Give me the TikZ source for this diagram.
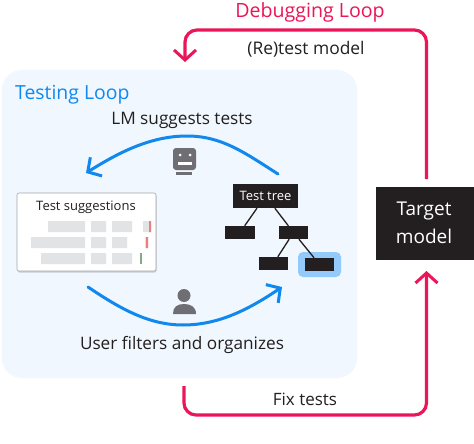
\documentclass[tikz,border=0pt]{standalone}
\usepackage{fontspec}
\setmainfont{Open Sans}
\usetikzlibrary{arrows.meta,shadows}
\definecolor{panelc}{HTML}{F0F7FE}
\definecolor{loopred}{HTML}{EB1559}
\definecolor{loopblue}{HTML}{1088EE}
\definecolor{hilite}{HTML}{93CAFA}
\definecolor{barc}{HTML}{E2E3E5}
\definecolor{icon}{HTML}{6E6E74}
\definecolor{ink}{HTML}{231F20}
\newcommand{\fs}[1]{\fontsize{#1}{#1}\selectfont}
\tikzset{
  x=1pt,y=-1pt,
  redline/.style={draw=loopred,line width=3.2pt,rounded corners=12pt},
  blueline/.style={draw=loopblue,line width=3pt,line cap=round},
  barb/.style={-{Straight Barb[length=10pt,width=22pt,line width=3pt]}},
  blk/.style={fill=ink,draw=none,inner sep=0pt,minimum width=29.5pt,minimum height=13pt},
  lbl/.style={text=ink,inner sep=0pt,align=center},
  treeedge/.style={draw=ink,line width=1.3pt},
  bar/.style={fill=barc,draw=none}
}
\begin{document}
\begin{tikzpicture}
\useasboundingbox (0,0) rectangle (474,444);
\fill[white] (0,0) rectangle (474,444);
% panel
\fill[panelc,rounded corners=20pt] (2,70) rectangle (357,378);
% target
\node[fill=ink,inner sep=0pt,minimum width=98pt,minimum height=73pt] (target) at (425,223.5) {};
\node[text=white,inner sep=0pt,font=\fs{19}] (tg1) at (424,211) {Target};
\node[text=white,inner sep=0pt,font=\fs{19}] (tg2) at (424,236) {model};
% red loop
\coordinate (t1) at (426.5,179);
\coordinate (t2) at (185,62);
\coordinate (b1) at (184,386);
\coordinate (b2) at (426.5,271);
\draw[redline,barb] (t1) -- (426.5,30) -- (185,30) -- (t2);
\draw[redline,barb] (b1) -- (184,415) -- (426.5,415) -- (b2);
% texts
\node[text=loopred,inner sep=0pt,font=\fs{19.6}] (dbg) at (310,12) {Debugging Loop};
\node[lbl,font=\fs{17.4}] (retest) at (306,49) {(Re)test model};
\node[lbl,font=\fs{17}] (fix) at (305,399) {Fix tests};
\node[text=loopblue,inner sep=0pt,anchor=west,font=\fs{19.4}] (tl) at (15,95) {Testing Loop};
\node[lbl,font=\fs{17.2}] (lm) at (182,120) {LM suggests tests};
\node[lbl,font=\fs{17.2}] (uf) at (182,345) {User filters and organizes};
% blue arrows
\coordinate (a1) at (278,174);
\coordinate (a2) at (86,173);
\coordinate (a3) at (88,287);
\coordinate (a4) at (282,287);
\draw[blueline,barb] (a1) .. controls (245,153) and (222,136) .. (187,136) .. controls (150,136) and (118,153) .. (a2);
\draw[blueline,barb] (a3) .. controls (122,310) and (150,325) .. (183,325) .. controls (218,325) and (248,310) .. (a4);
% suggestions card
\node[fill=white,draw=black!35,line width=.6pt,rounded corners=2pt,minimum width=139pt,minimum height=78pt,inner sep=0pt,drop shadow={shadow xshift=0.5pt,shadow yshift=-1.5pt,opacity=.35}] (card) at (86.5,232) {};
\node[lbl,font=\fs{13}] (cardt) at (86,207) {Test suggestions};
\fill[bar] (48,221) rectangle (85,232) (91,221) rectangle (106,232) (112,221) rectangle (132,232) (143,221) rectangle (151,232);
\fill[bar] (31,237) rectangle (85,248) (91,237) rectangle (106,248) (112,237) rectangle (127,248) (145,237) rectangle (148,248);
\fill[bar] (41,253) rectangle (85,264) (91,253) rectangle (106,264) (112,253) rectangle (132,264);
\fill[red!45!barc] (149,221) rectangle (151,232) (146,237) rectangle (148,248);
\fill[green!35!black!50] (140,253) rectangle (142,264);
% tree
\fill[hilite,rounded corners=5pt] (298,252) rectangle (341,277);
\node[fill=ink,text=white,inner sep=0pt,minimum width=65pt,minimum height=24pt,font=\fs{13}] (root) at (265.5,196) {Test tree};
\node[blk] (c1) at (240,232.5) {};
\node[blk] (c2) at (293.5,232.5) {};
\node[blk] (c3) at (273.5,263.5) {};
\node[blk] (c4) at (319.5,264.5) {};
\draw[treeedge] (root) -- (c1);
\draw[treeedge] (root) -- (c2);
\draw[treeedge] (c2) -- (c3);
\draw[treeedge] (c2) -- (c4);
% robot icon
\fill[icon,rounded corners=3pt] (173,148) rectangle (196,170);
\fill[icon] (176,171.5) rectangle (192,174.5);
\fill[white] (180,155) circle (1.5) (190,155) circle (1.5);
\fill[white] (178,162) rectangle (192,164.5);
% person icon
\fill[icon] (184,295.5) circle (6.5);
\fill[icon] (173,314) .. controls (173,307) and (177,304) .. (184,304) .. controls (191,304) and (196,307) .. (196,314) -- cycle;
\end{tikzpicture}
\end{document}
